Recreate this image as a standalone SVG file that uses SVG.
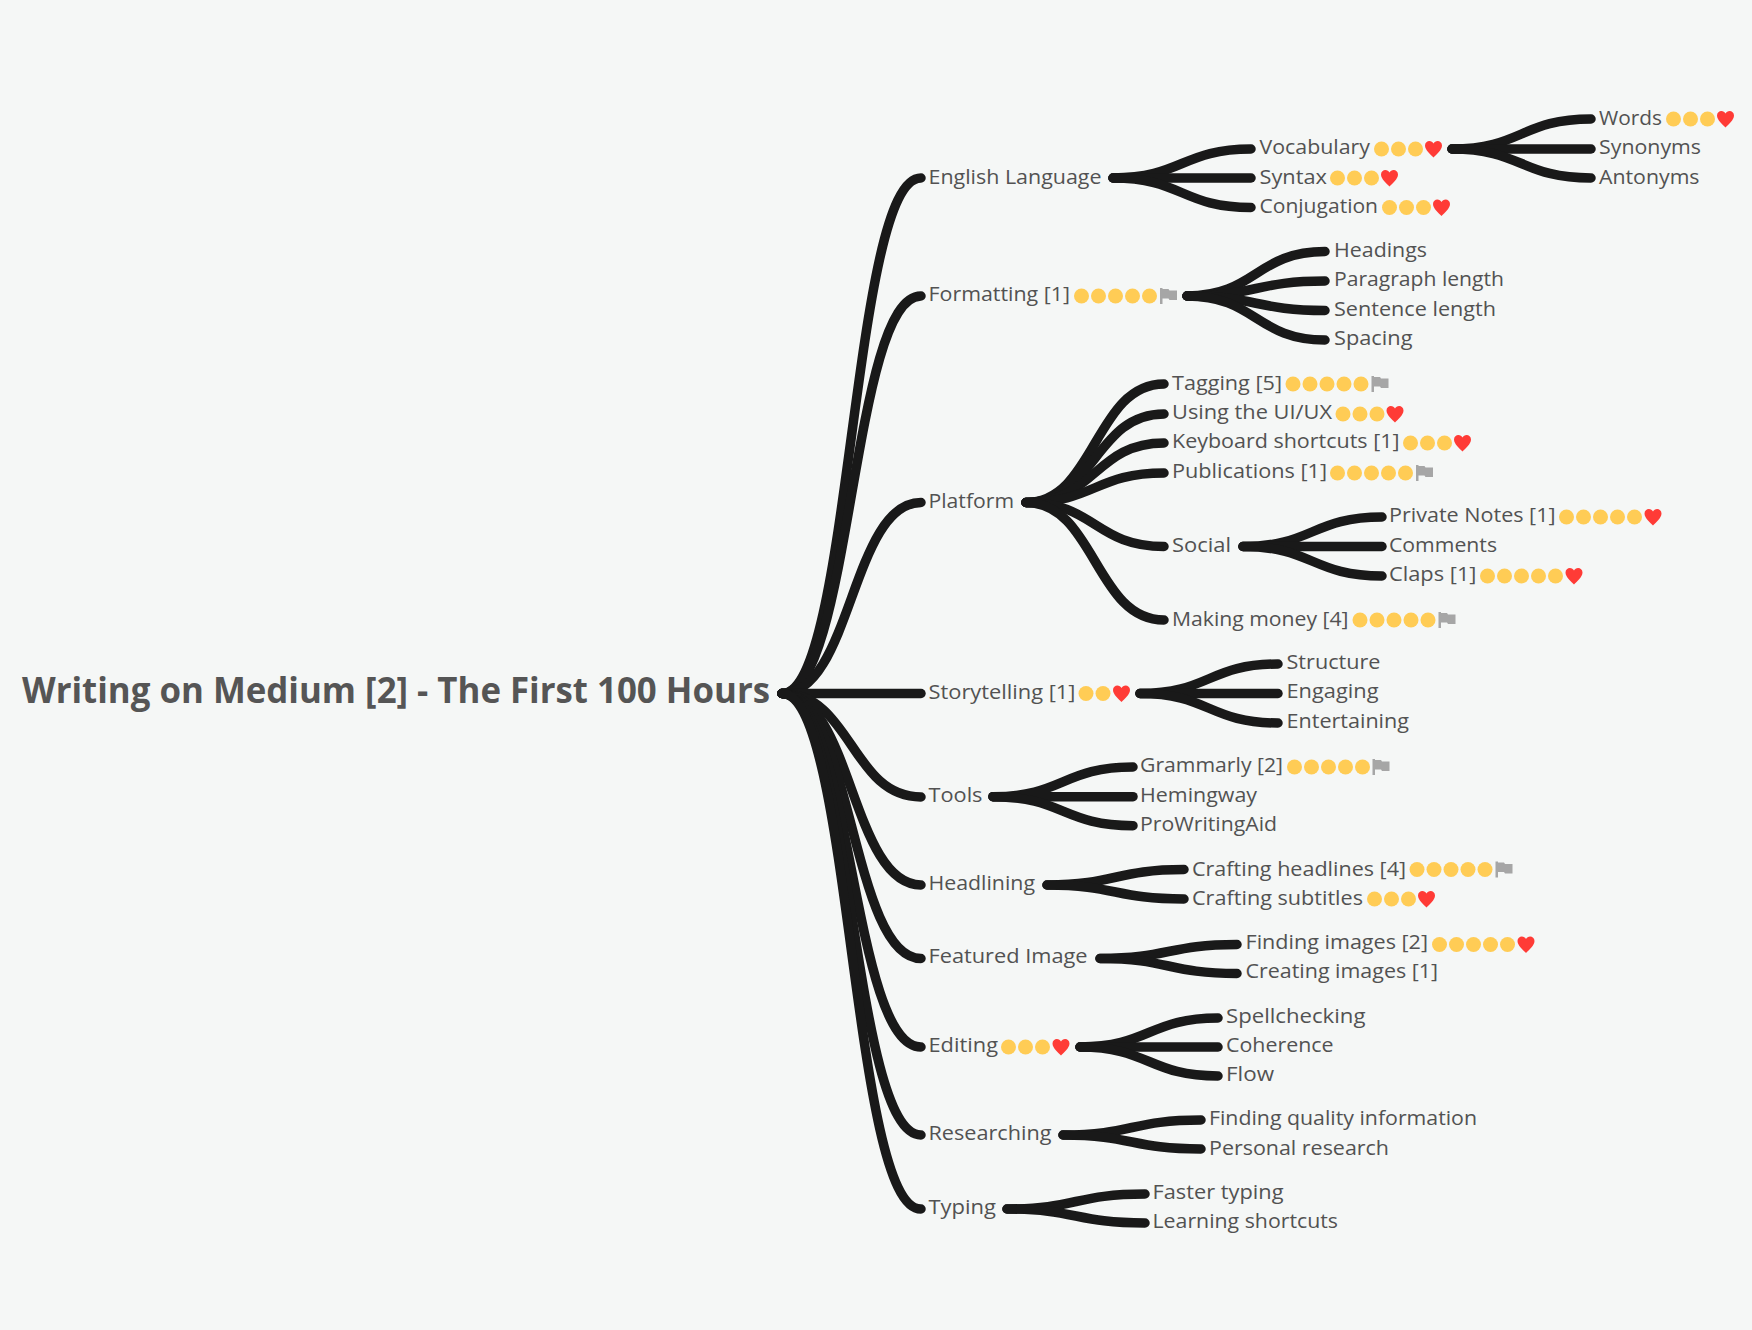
<svg xmlns="http://www.w3.org/2000/svg" width="1752" height="1330" viewBox="0 0 1752 1330">
<style>
text{font-family:"Open Sans","Noto Sans",sans-serif;font-size:20px;fill:#525252;transform:translateY(-.6px)}
.root{font-size:35px;font-weight:700;fill:#555;transform:none}
#connectors path{fill:none;stroke:#191919;stroke-width:9.5;stroke-linecap:round}
.d{fill:#ffcc55}.h{fill:#ff3b36}.f{fill:#a6a6a6}
</style>
<defs>
<circle id="d" class="d" r="7.5"/>
<path id="h" class="h" d="M0 8.5C-3 5.5-8.5 1-8.5-3.5C-8.5-6.5-6.2-8-4.2-8C-2.3-8-.8-7 0-5.5C.8-7 2.3-8 4.2-8C6.2-8 8.5-6.5 8.5-3.5C8.5 1 3 5.5 0 8.5Z"/>
<path id="f" class="f" d="M-8.5-8H-6V-7H0L1-5.5H8.5V4H1L0 2.5H-6V8H-8.5Z"/>
</defs>
<rect width="1752" height="1330" fill="#f5f7f6"/>
<g id="connectors">
<path d="M782 693.5C851.5 693.5 851.5 178 921 178"/>
<path d="M782 693.5C851.5 693.5 851.5 296 921 296"/>
<path d="M782 693.5C851.5 693.5 851.5 502.5 921 502.5"/>
<path d="M782 693.5H921"/>
<path d="M782 693.5C851.5 693.5 851.5 797 921 797"/>
<path d="M782 693.5C851.5 693.5 851.5 885 921 885"/>
<path d="M782 693.5C851.5 693.5 851.5 958.5 921 958.5"/>
<path d="M782 693.5C851.5 693.5 851.5 1047 921 1047"/>
<path d="M782 693.5C851.5 693.5 851.5 1135 921 1135"/>
<path d="M782 693.5C851.5 693.5 851.5 1209 921 1209"/>
<path d="M1113 178C1182 178 1182 149 1251 149"/>
<path d="M1113 178H1251"/>
<path d="M1113 178C1182 178 1182 207.5 1251 207.5"/>
<path d="M1452 149C1521.5 149 1521.5 119 1591 119"/>
<path d="M1452 149H1591"/>
<path d="M1452 149C1521.5 149 1521.5 178 1591 178"/>
<path d="M1187 296C1256 296 1256 251.5 1325 251.5"/>
<path d="M1187 296C1256 296 1256 281 1325 281"/>
<path d="M1187 296C1256 296 1256 310.5 1325 310.5"/>
<path d="M1187 296C1256 296 1256 340 1325 340"/>
<path d="M1026 502.5C1095 502.5 1095 384 1164 384"/>
<path d="M1026 502.5C1095 502.5 1095 414 1164 414"/>
<path d="M1026 502.5C1095 502.5 1095 443 1164 443"/>
<path d="M1026 502.5C1095 502.5 1095 473 1164 473"/>
<path d="M1026 502.5C1095 502.5 1095 546.5 1164 546.5"/>
<path d="M1026 502.5C1095 502.5 1095 620 1164 620"/>
<path d="M1243 546.5C1312.5 546.5 1312.5 517 1382 517"/>
<path d="M1243 546.5H1382"/>
<path d="M1243 546.5C1312.5 546.5 1312.5 576 1382 576"/>
<path d="M1140 693.5C1209 693.5 1209 664 1278 664"/>
<path d="M1140 693.5H1278"/>
<path d="M1140 693.5C1209 693.5 1209 723 1278 723"/>
<path d="M993 796.7C1063 796.7 1063 767 1133 767"/>
<path d="M993 796.7H1133"/>
<path d="M993 796.7C1063 796.7 1063 825.7 1133 825.7"/>
<path d="M1047 885C1115.5 885 1115.5 869.5 1184 869.5"/>
<path d="M1047 885C1115.5 885 1115.5 899 1184 899"/>
<path d="M1100 958.5C1168.5 958.5 1168.5 944.5 1237 944.5"/>
<path d="M1100 958.5C1168.5 958.5 1168.5 973.5 1237 973.5"/>
<path d="M1080 1047C1149 1047 1149 1018 1218 1018"/>
<path d="M1080 1047H1218"/>
<path d="M1080 1047C1149 1047 1149 1076 1218 1076"/>
<path d="M1063 1135C1132 1135 1132 1120 1201 1120"/>
<path d="M1063 1135C1132 1135 1132 1149 1201 1149"/>
<path d="M1007 1209C1076 1209 1076 1194 1145 1194"/>
<path d="M1007 1209C1076 1209 1076 1223 1145 1223"/>
</g>
<g id="n-root"><text class="root" x="22" y="703" textLength="748" lengthAdjust="spacingAndGlyphs">Writing on Medium [2] - The First 100 Hours</text></g>
<g id="n-english"><text x="928.5" y="184.5" textLength="173" lengthAdjust="spacingAndGlyphs">English Language</text></g>
<g id="n-vocabulary"><text x="1259.5" y="155" textLength="110.5" lengthAdjust="spacingAndGlyphs">Vocabulary</text><use href="#d" x="1381.5" y="149"/><use href="#d" x="1398.5" y="149"/><use href="#d" x="1415.5" y="149"/><use href="#h" x="1433.5" y="149"/></g>
<g id="n-syntax"><text x="1259.5" y="184.5" textLength="67.5" lengthAdjust="spacingAndGlyphs">Syntax</text><use href="#d" x="1337.5" y="178"/><use href="#d" x="1354.5" y="178"/><use href="#d" x="1371.5" y="178"/><use href="#h" x="1389.5" y="178"/></g>
<g id="n-conjugation"><text x="1259.5" y="214" textLength="118.5" lengthAdjust="spacingAndGlyphs">Conjugation</text><use href="#d" x="1389.5" y="207.5"/><use href="#d" x="1406.5" y="207.5"/><use href="#d" x="1423.5" y="207.5"/><use href="#h" x="1441.5" y="207.5"/></g>
<g id="n-words"><text x="1599" y="125.5" textLength="63" lengthAdjust="spacingAndGlyphs">Words</text><use href="#d" x="1673.5" y="119"/><use href="#d" x="1690.5" y="119"/><use href="#d" x="1707.5" y="119"/><use href="#h" x="1725.5" y="119"/></g>
<g id="n-synonyms"><text x="1599" y="155" textLength="102" lengthAdjust="spacingAndGlyphs">Synonyms</text></g>
<g id="n-antonyms"><text x="1599" y="184.5" textLength="100.5" lengthAdjust="spacingAndGlyphs">Antonyms</text></g>
<g id="n-formatting"><text x="928.5" y="302" textLength="141.5" lengthAdjust="spacingAndGlyphs">Formatting [1]</text><use href="#d" x="1081.5" y="296"/><use href="#d" x="1098.5" y="296"/><use href="#d" x="1115.5" y="296"/><use href="#d" x="1132.5" y="296"/><use href="#d" x="1149.5" y="296"/><use href="#f" x="1168.5" y="296"/></g>
<g id="n-headings"><text x="1334" y="258" textLength="93" lengthAdjust="spacingAndGlyphs">Headings</text></g>
<g id="n-paragraph"><text x="1334" y="287" textLength="170" lengthAdjust="spacingAndGlyphs">Paragraph length</text></g>
<g id="n-sentence"><text x="1334" y="316.5" textLength="162" lengthAdjust="spacingAndGlyphs">Sentence length</text></g>
<g id="n-spacing"><text x="1334" y="346" textLength="78.5" lengthAdjust="spacingAndGlyphs">Spacing</text></g>
<g id="n-platform"><text x="928.5" y="508.5" textLength="85.5" lengthAdjust="spacingAndGlyphs">Platform</text></g>
<g id="n-tagging"><text x="1172" y="390.5" textLength="110" lengthAdjust="spacingAndGlyphs">Tagging [5]</text><use href="#d" x="1293" y="384"/><use href="#d" x="1310" y="384"/><use href="#d" x="1327" y="384"/><use href="#d" x="1344" y="384"/><use href="#d" x="1361" y="384"/><use href="#f" x="1380" y="384"/></g>
<g id="n-uiux"><text x="1172" y="420" textLength="160" lengthAdjust="spacingAndGlyphs">Using the UI/UX</text><use href="#d" x="1343" y="414"/><use href="#d" x="1360" y="414"/><use href="#d" x="1377" y="414"/><use href="#h" x="1395" y="414"/></g>
<g id="n-keyboard"><text x="1172" y="449" textLength="227.5" lengthAdjust="spacingAndGlyphs">Keyboard shortcuts [1]</text><use href="#d" x="1410.5" y="443"/><use href="#d" x="1427.5" y="443"/><use href="#d" x="1444.5" y="443"/><use href="#h" x="1462.5" y="443"/></g>
<g id="n-publications"><text x="1172" y="479" textLength="155" lengthAdjust="spacingAndGlyphs">Publications [1]</text><use href="#d" x="1337.5" y="473"/><use href="#d" x="1354.5" y="473"/><use href="#d" x="1371.5" y="473"/><use href="#d" x="1388.5" y="473"/><use href="#d" x="1405.5" y="473"/><use href="#f" x="1424.5" y="473"/></g>
<g id="n-social"><text x="1172" y="552.5" textLength="59" lengthAdjust="spacingAndGlyphs">Social</text></g>
<g id="n-private"><text x="1389" y="523" textLength="166.5" lengthAdjust="spacingAndGlyphs">Private Notes [1]</text><use href="#d" x="1566.5" y="517"/><use href="#d" x="1583.5" y="517"/><use href="#d" x="1600.5" y="517"/><use href="#d" x="1617.5" y="517"/><use href="#d" x="1634.5" y="517"/><use href="#h" x="1653" y="517"/></g>
<g id="n-comments"><text x="1389" y="552.5" textLength="108" lengthAdjust="spacingAndGlyphs">Comments</text></g>
<g id="n-claps"><text x="1389" y="582" textLength="87.5" lengthAdjust="spacingAndGlyphs">Claps [1]</text><use href="#d" x="1487.5" y="576"/><use href="#d" x="1504.5" y="576"/><use href="#d" x="1521.5" y="576"/><use href="#d" x="1538.5" y="576"/><use href="#d" x="1555.5" y="576"/><use href="#h" x="1574" y="576"/></g>
<g id="n-money"><text x="1172" y="626.5" textLength="176.5" lengthAdjust="spacingAndGlyphs">Making money [4]</text><use href="#d" x="1360" y="620"/><use href="#d" x="1377" y="620"/><use href="#d" x="1394" y="620"/><use href="#d" x="1411" y="620"/><use href="#d" x="1428" y="620"/><use href="#f" x="1447" y="620"/></g>
<g id="n-storytelling"><text x="928.5" y="699.5" textLength="147" lengthAdjust="spacingAndGlyphs">Storytelling [1]</text><use href="#d" x="1086" y="693.5"/><use href="#d" x="1103" y="693.5"/><use href="#h" x="1121.5" y="693.5"/></g>
<g id="n-structure"><text x="1286.5" y="670" textLength="94" lengthAdjust="spacingAndGlyphs">Structure</text></g>
<g id="n-engaging"><text x="1286.5" y="699" textLength="92" lengthAdjust="spacingAndGlyphs">Engaging</text></g>
<g id="n-entertaining"><text x="1286.5" y="728.5" textLength="122.5" lengthAdjust="spacingAndGlyphs">Entertaining</text></g>
<g id="n-tools"><text x="928.5" y="802.5" textLength="54" lengthAdjust="spacingAndGlyphs">Tools</text></g>
<g id="n-grammarly"><text x="1140" y="773" textLength="143" lengthAdjust="spacingAndGlyphs">Grammarly [2]</text><use href="#d" x="1294.5" y="767"/><use href="#d" x="1311.5" y="767"/><use href="#d" x="1328.5" y="767"/><use href="#d" x="1345.5" y="767"/><use href="#d" x="1362.5" y="767"/><use href="#f" x="1381" y="767"/></g>
<g id="n-hemingway"><text x="1140" y="802.5" textLength="117" lengthAdjust="spacingAndGlyphs">Hemingway</text></g>
<g id="n-prowriting"><text x="1140" y="831.5" textLength="137" lengthAdjust="spacingAndGlyphs">ProWritingAid</text></g>
<g id="n-headlining"><text x="928.5" y="890.5" textLength="106.5" lengthAdjust="spacingAndGlyphs">Headlining</text></g>
<g id="n-crafthead"><text x="1192" y="876.5" textLength="214" lengthAdjust="spacingAndGlyphs">Crafting headlines [4]</text><use href="#d" x="1417" y="869.5"/><use href="#d" x="1434" y="869.5"/><use href="#d" x="1451" y="869.5"/><use href="#d" x="1468" y="869.5"/><use href="#d" x="1485" y="869.5"/><use href="#f" x="1504" y="869.5"/></g>
<g id="n-craftsub"><text x="1192" y="905.5" textLength="171" lengthAdjust="spacingAndGlyphs">Crafting subtitles</text><use href="#d" x="1374.5" y="899"/><use href="#d" x="1391.5" y="899"/><use href="#d" x="1408.5" y="899"/><use href="#h" x="1426.5" y="899"/></g>
<g id="n-featured"><text x="928.5" y="964" textLength="159" lengthAdjust="spacingAndGlyphs">Featured Image</text></g>
<g id="n-findimg"><text x="1245.5" y="949.5" textLength="182.5" lengthAdjust="spacingAndGlyphs">Finding images [2]</text><use href="#d" x="1439.5" y="944.5"/><use href="#d" x="1456.5" y="944.5"/><use href="#d" x="1473.5" y="944.5"/><use href="#d" x="1490.5" y="944.5"/><use href="#d" x="1507.5" y="944.5"/><use href="#h" x="1526" y="944.5"/></g>
<g id="n-createimg"><text x="1245.5" y="979" textLength="192.5" lengthAdjust="spacingAndGlyphs">Creating images [1]</text></g>
<g id="n-editing"><text x="928.5" y="1052.5" textLength="69.5" lengthAdjust="spacingAndGlyphs">Editing</text><use href="#d" x="1008.5" y="1047"/><use href="#d" x="1025.5" y="1047"/><use href="#d" x="1042.5" y="1047"/><use href="#h" x="1061" y="1047"/></g>
<g id="n-spell"><text x="1226" y="1023.5" textLength="139.5" lengthAdjust="spacingAndGlyphs">Spellchecking</text></g>
<g id="n-coherence"><text x="1226" y="1052.5" textLength="107.5" lengthAdjust="spacingAndGlyphs">Coherence</text></g>
<g id="n-flow"><text x="1226" y="1082" textLength="48" lengthAdjust="spacingAndGlyphs">Flow</text></g>
<g id="n-researching"><text x="928.5" y="1140.5" textLength="123" lengthAdjust="spacingAndGlyphs">Researching</text></g>
<g id="n-quality"><text x="1209" y="1126" textLength="268" lengthAdjust="spacingAndGlyphs">Finding quality information</text></g>
<g id="n-personal"><text x="1209" y="1155.5" textLength="180" lengthAdjust="spacingAndGlyphs">Personal research</text></g>
<g id="n-typing"><text x="928.5" y="1214.5" textLength="67.5" lengthAdjust="spacingAndGlyphs">Typing</text></g>
<g id="n-faster"><text x="1152.5" y="1200" textLength="131" lengthAdjust="spacingAndGlyphs">Faster typing</text></g>
<g id="n-learning"><text x="1152.5" y="1229" textLength="185.5" lengthAdjust="spacingAndGlyphs">Learning shortcuts</text></g>
</svg>
